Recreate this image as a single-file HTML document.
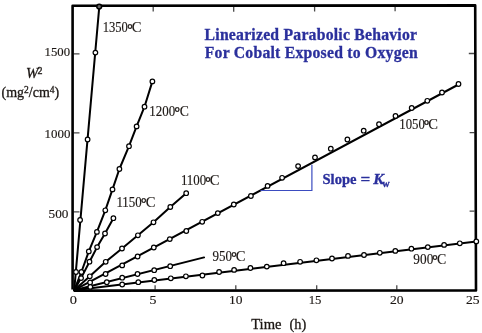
<!DOCTYPE html>
<html><head><meta charset="utf-8"><title>Linearized Parabolic Behavior For Cobalt Exposed to Oxygen</title>
<style>
html,body{margin:0;padding:0;background:#fff;}
body{width:482px;height:333px;overflow:hidden;}
svg{display:block;}
text{font-family:"Liberation Serif","Times New Roman",serif;}
.t{font-size:14px;fill:#1c1714;stroke:#1c1714;stroke-width:0.3px;}
.deg{font-size:9px;}
.title{font-size:15.7px;font-weight:bold;fill:#2a2f9c;stroke:#2a2f9c;stroke-width:0.3px;}
</style></head>
<body>
<svg width="482" height="333" viewBox="0 0 482 333">
<rect width="482" height="333" fill="#fff"/>
<!-- ticks -->
<g stroke="#4a4a4a" stroke-width="1.3" fill="none">
  <path d="M73.5,53.9 H79.5 M73.5,132.9 H79.5 M73.5,211.9 H79.5"/>
  <path d="M474.5,53.5 H468.8 M474.5,132.7 H469.6 M474.5,211.2 H469.6"/>
  <path d="M155.1,289.5 V285.2 M235.8,289.5 V285.2 M316.7,289.5 V285.2 M396.8,289.5 V285.2"/>
  <path d="M153.2,6.5 V11.6 M233.7,6.5 V11.7 M314.6,6.5 V11.5 M395.1,6.5 V11.3"/>
</g>
<!-- frame -->
<g fill="none" stroke="#000" stroke-width="2.6" stroke-linejoin="round">
<path d="M72.6,289.4 V5.7 L475.2,5.4 L476,290.5 L73.8,290.6"/>
</g>
<!-- data lines -->
<g stroke="#000" stroke-width="2" fill="none" stroke-linejoin="round" stroke-linecap="round">
<path d="M74.2,290.2 L99.4,5.4"/>
<path d="M74.2,290.2 L81.4,272 L88.8,251.4 L96.9,231.9 L105.3,210.3 L112.5,189.4 L119.4,169 L129,146.2 L136.6,126.4 L144.5,106.7 L152.4,81.4"/>
<path d="M74.2,290.2 L81.1,278.1 L89.5,261.7 L97.1,247.1 L105,233.5 L113.4,218.2"/>
<path d="M74.2,290.2 L89.8,276.3 L105.7,261.8 L122,248.5 L137.9,235.3 L153.5,222.3 L170.3,207 L186.2,193.2"/>
<path d="M74.2,290.2 L458.5,84.5"/>
<path d="M74.2,290.2 L204.1,257.4"/>
<path d="M74.2,290.2 L476.3,241.4"/>
</g>
<!-- slope triangle -->
<path d="M260.5,190.5 H311.9 V164.7" fill="none" stroke="#3b4cc0" stroke-width="1.2"/>
<!-- markers -->
<g stroke="#000" stroke-width="1.2" fill="#fff">
<circle cx="76" cy="272" r="2.3"/>
<circle cx="80.1" cy="220" r="2.3"/>
<circle cx="87.6" cy="139.5" r="2.3"/>
<circle cx="95.4" cy="52.6" r="2.3"/>
<circle cx="81.4" cy="272" r="2.3"/>
<circle cx="88.8" cy="251.4" r="2.3"/>
<circle cx="96.9" cy="231.9" r="2.3"/>
<circle cx="105.3" cy="210.3" r="2.3"/>
<circle cx="112.5" cy="189.4" r="2.3"/>
<circle cx="119.4" cy="169" r="2.3"/>
<circle cx="129" cy="146.2" r="2.3"/>
<circle cx="136.6" cy="126.4" r="2.3"/>
<circle cx="144.5" cy="106.7" r="2.3"/>
<circle cx="152.4" cy="81.4" r="2.3"/>
<circle cx="81.1" cy="278.1" r="2.3"/>
<circle cx="89.5" cy="261.7" r="2.3"/>
<circle cx="97.1" cy="247.1" r="2.3"/>
<circle cx="105" cy="233.5" r="2.3"/>
<circle cx="113.4" cy="218.2" r="2.3"/>
<circle cx="89.8" cy="276.3" r="2.3"/>
<circle cx="105.7" cy="261.8" r="2.3"/>
<circle cx="122" cy="248.5" r="2.3"/>
<circle cx="137.9" cy="235.3" r="2.3"/>
<circle cx="153.5" cy="222.3" r="2.3"/>
<circle cx="170.3" cy="207" r="2.3"/>
<circle cx="186.2" cy="193.2" r="2.3"/>
<circle cx="90.1" cy="282.4" r="2.3"/>
<circle cx="105.6" cy="274" r="2.3"/>
<circle cx="122.2" cy="265.4" r="2.3"/>
<circle cx="137.6" cy="256.5" r="2.3"/>
<circle cx="153.8" cy="247.5" r="2.3"/>
<circle cx="169.8" cy="239.1" r="2.3"/>
<circle cx="186.3" cy="231" r="2.3"/>
<circle cx="202.2" cy="221.8" r="2.3"/>
<circle cx="217.8" cy="213.1" r="2.3"/>
<circle cx="233.8" cy="204.5" r="2.3"/>
<circle cx="250.9" cy="196" r="2.3"/>
<circle cx="267.6" cy="185.9" r="2.3"/>
<circle cx="282.1" cy="177.8" r="2.3"/>
<circle cx="298.1" cy="166.1" r="2.3"/>
<circle cx="315" cy="157.4" r="2.3"/>
<circle cx="330.8" cy="148.7" r="2.3"/>
<circle cx="347.4" cy="139.5" r="2.3"/>
<circle cx="363.7" cy="130.7" r="2.3"/>
<circle cx="379" cy="124.2" r="2.3"/>
<circle cx="395.5" cy="116" r="2.3"/>
<circle cx="411.7" cy="108" r="2.3"/>
<circle cx="427.3" cy="100.8" r="2.3"/>
<circle cx="442" cy="92.5" r="2.3"/>
<circle cx="458.5" cy="84" r="2.3"/>
<circle cx="90.3" cy="286.9" r="2.3"/>
<circle cx="106.8" cy="282.2" r="2.3"/>
<circle cx="122.2" cy="277.7" r="2.3"/>
<circle cx="137.5" cy="274" r="2.3"/>
<circle cx="154.2" cy="270.2" r="2.3"/>
<circle cx="170.2" cy="266.2" r="2.3"/>
<circle cx="122.2" cy="284.5" r="2.3"/>
<circle cx="138.3" cy="282.2" r="2.3"/>
<circle cx="154.3" cy="280" r="2.3"/>
<circle cx="170.8" cy="278.3" r="2.3"/>
<circle cx="185.9" cy="276.3" r="2.3"/>
<circle cx="202.4" cy="275.5" r="2.3"/>
<circle cx="219.1" cy="272" r="2.3"/>
<circle cx="234.1" cy="269.9" r="2.3"/>
<circle cx="250.4" cy="268" r="2.3"/>
<circle cx="266.8" cy="266.6" r="2.3"/>
<circle cx="283.6" cy="263.2" r="2.3"/>
<circle cx="300.1" cy="261.8" r="2.3"/>
<circle cx="316.4" cy="260.3" r="2.3"/>
<circle cx="332" cy="258.5" r="2.3"/>
<circle cx="348" cy="255.9" r="2.3"/>
<circle cx="364" cy="255" r="2.3"/>
<circle cx="379.8" cy="252.8" r="2.3"/>
<circle cx="395.3" cy="250.9" r="2.3"/>
<circle cx="411.4" cy="248.7" r="2.3"/>
<circle cx="427.8" cy="247.1" r="2.3"/>
<circle cx="444.1" cy="244.9" r="2.3"/>
<circle cx="459.8" cy="243.3" r="2.3"/>
<circle cx="476.3" cy="241.4" r="2.3"/>
</g>
<circle cx="99.2" cy="6.6" r="2.4" fill="#666" stroke="#000" stroke-width="1.5"/>
<!-- y tick labels -->
<g class="t" style="stroke-width:0.15px">
<text x="44.53" y="56.3" style="font-size:13.4px" textLength="25.51" lengthAdjust="spacingAndGlyphs">1500</text>
<text x="44.51" y="137.7" style="font-size:13.4px" textLength="25.88" lengthAdjust="spacingAndGlyphs">1000</text>
<text x="48.53" y="217.5" style="font-size:13.4px" textLength="19.87" lengthAdjust="spacingAndGlyphs">500</text>
<text x="69.65" y="303.8" style="font-size:13.4px" textLength="7.2" lengthAdjust="spacingAndGlyphs">0</text>
<text x="149.59" y="304" style="font-size:13.4px" textLength="6.95" lengthAdjust="spacingAndGlyphs">5</text>
<text x="228.91" y="303.7" style="font-size:13.4px" textLength="13.5" lengthAdjust="spacingAndGlyphs">10</text>
<text x="308.68" y="303.8" style="font-size:13.4px" textLength="12.71" lengthAdjust="spacingAndGlyphs">15</text>
<text x="390" y="303.8" style="font-size:13.4px" textLength="13.62" lengthAdjust="spacingAndGlyphs">20</text>
<text x="466" y="303.9" style="font-size:13.4px" textLength="13.63" lengthAdjust="spacingAndGlyphs">25</text>
</g>
<!-- axis titles -->
<text class="t" x="26" y="78.4" style="font-style:italic;font-size:14.8px">W<tspan x="37.6" y="73.9" style="font-style:normal;font-size:10px">2</tspan></text>
<text class="t" x="1.5" y="97.3">(mg<tspan style="font-size:9.5px" dy="-4.2">2</tspan><tspan dy="4.2">/cm</tspan><tspan style="font-size:9.5px" dy="-4.2">4</tspan><tspan dy="4.2">)</tspan></text>
<text class="t" x="251.2" y="328.9" style="font-size:14.6px">Time <tspan x="289.4" style="font-size:15px" textLength="16.8" lengthAdjust="spacingAndGlyphs">(h)</tspan></text>
<!-- temperature labels -->
<g class="t" style="stroke-width:0.15px">
<text y="32.2" style="font-size:14.2px"><tspan x="102.69" textLength="25.19" lengthAdjust="spacingAndGlyphs">1350</tspan><tspan x="127.19" y="33.64" style="font-size:13.6px;stroke-width:0.45px">°</tspan><tspan x="131.8" y="32.2" style="font-size:13.8px" textLength="9.7" lengthAdjust="spacingAndGlyphs">C</tspan></text>
<text y="115.6" style="font-size:14.2px"><tspan x="149.36" textLength="25.93" lengthAdjust="spacingAndGlyphs">1200</tspan><tspan x="174.59" y="117.14" style="font-size:13.6px;stroke-width:0.45px">°</tspan><tspan x="179.74" y="115.6" style="font-size:13.8px" textLength="9.11" lengthAdjust="spacingAndGlyphs">C</tspan></text>
<text y="206.6" style="font-size:14.2px"><tspan x="116.38" textLength="25.4" lengthAdjust="spacingAndGlyphs">1150</tspan><tspan x="141.04" y="208.14" style="font-size:13.6px;stroke-width:0.45px">°</tspan><tspan x="145.7" y="206.6" style="font-size:13.8px" textLength="9.7" lengthAdjust="spacingAndGlyphs">C</tspan></text>
<text y="185" style="font-size:14.2px"><tspan x="180.88" textLength="25.4" lengthAdjust="spacingAndGlyphs">1100</tspan><tspan x="205.34" y="186.64" style="font-size:13.6px;stroke-width:0.45px">°</tspan><tspan x="209.7" y="185" style="font-size:13.8px" textLength="9.7" lengthAdjust="spacingAndGlyphs">C</tspan></text>
<text y="128.6" style="font-size:14.2px"><tspan x="399.28" textLength="25.51" lengthAdjust="spacingAndGlyphs">1050</tspan><tspan x="423.84" y="129.84" style="font-size:13.6px;stroke-width:0.45px">°</tspan><tspan x="428.2" y="128.6" style="font-size:13.8px" textLength="9.7" lengthAdjust="spacingAndGlyphs">C</tspan></text>
<text y="260.8" style="font-size:14.2px"><tspan x="212.38" textLength="19.51" lengthAdjust="spacingAndGlyphs">950</tspan><tspan x="231.14" y="261.94" style="font-size:13.6px;stroke-width:0.45px">°</tspan><tspan x="235.7" y="260.8" style="font-size:13.8px" textLength="9.7" lengthAdjust="spacingAndGlyphs">C</tspan></text>
<text y="263.8" style="font-size:14.2px"><tspan x="413.37" textLength="19.93" lengthAdjust="spacingAndGlyphs">900</tspan><tspan x="432.34" y="264.94" style="font-size:13.6px;stroke-width:0.45px">°</tspan><tspan x="437.13" y="263.8" style="font-size:13.8px" textLength="9.23" lengthAdjust="spacingAndGlyphs">C</tspan></text>
</g>
<!-- title -->
<g class="title" text-anchor="middle">
<text x="310.8" y="39.9" textLength="212.4" lengthAdjust="spacing">Linearized Parabolic Behavior</text>
<text x="311.2" y="58.0" textLength="213" lengthAdjust="spacing">For Cobalt Exposed to Oxygen</text>
</g>
<text class="title" x="322.5" y="183.9" style="font-size:14px"><tspan textLength="34" lengthAdjust="spacingAndGlyphs">Slope</tspan><tspan x="360.4" textLength="9.8" lengthAdjust="spacingAndGlyphs">=</tspan><tspan x="373.2" style="font-style:italic" textLength="10.6" lengthAdjust="spacingAndGlyphs">K</tspan><tspan x="382.3" style="font-size:10.2px" dy="3">w</tspan></text>
</svg>
</body></html>
